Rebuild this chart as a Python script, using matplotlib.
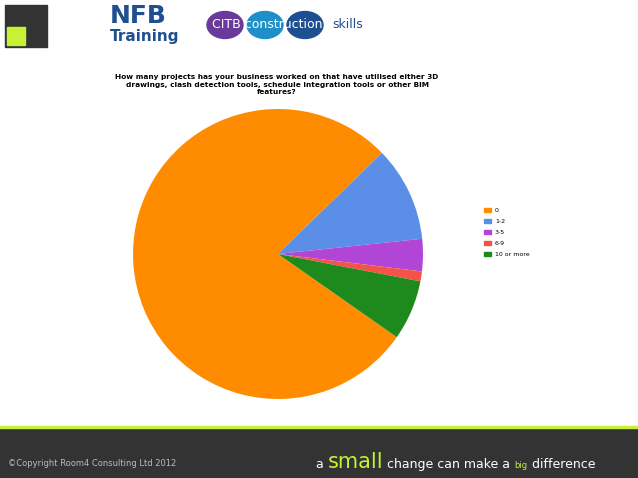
import matplotlib.pyplot as plt
from matplotlib.patches import Rectangle, Circle

categories = ["0", "1-2", "3-5", "6-9", "10 or more"]
shares = [78.0, 10.6, 3.6, 1.1, 6.7]
colors = ["#ff8c00", "#5b8ee6", "#b146d6", "#f5524a", "#1e8a1e"]
title = ("How many projects has your business worked on that have utilised either 3D\n"
         "drawings, clash detection tools, schedule integration tools or other BIM\n"
         "features?")

fig = plt.figure(figsize=(6.38, 4.78), dpi=100)
fig.patch.set_facecolor("white")

# header logos (rough)
fig.patches.append(Rectangle((5/638, 1-47/478), 42/638, 42/478, transform=fig.transFigure,
                             color="#333333"))
fig.patches.append(Rectangle((7/638, 1-45/478), 18/638, 18/478, transform=fig.transFigure,
                             color="#c6f135"))
fig.text(110/638, 1-16/478, "NFB", fontsize=18, fontweight="bold", color="#1d4f91",
         ha="left", va="center")
fig.text(110/638, 1-36/478, "Training", fontsize=11, fontweight="bold", color="#1d4f91",
         ha="left", va="center")
for cx, c in [(225, "#6a3a9a"), (265, "#1e8fc8"), (305, "#1d4f91")]:
    fig.patches.append(Circle((cx/638, 1-25/478), 18/638, transform=fig.transFigure,
                              color=c))
fig.text(212/638, 1-25/478, "CITB construction", fontsize=9, color="white",
         ha="left", va="center")
fig.text(332/638, 1-25/478, "skills", fontsize=9, color="#1d4f91", ha="left", va="center")

fig.text(277/638, 1-85/478, title, fontsize=5.3, fontweight="bold", ha="center",
         va="center", linespacing=1.3)

ax = fig.add_axes([133/638, 1-399/478, 290/638, 290/478])
ax.pie(shares, colors=colors, startangle=-35, counterclock=False)
ax.set_xlim(-1, 1)
ax.set_ylim(-1, 1)
ax.set_aspect("equal")

handles = [Rectangle((0, 0), 1, 1, color=c) for c in colors]
fig.legend(handles, categories, loc="upper left", bbox_to_anchor=(478/638, 1-202/478),
           frameon=False, fontsize=4.5, handlelength=1.2, handleheight=0.7,
           labelspacing=0.9, handletextpad=0.6)

# footer
fig.patches.append(Rectangle((0, 0), 1, 50/478, transform=fig.transFigure, color="#333333"))
fig.patches.append(Rectangle((0, 50/478), 1, 2/478, transform=fig.transFigure,
                             color="#c6f135"))
fig.text(8/638, 1-463/478, "©Copyright Room4 Consulting Ltd 2012", fontsize=6,
         color="#bbbbbb", ha="left", va="center")
x = 316/638
y = 1-468/478
parts = [("a ", 9, "white"), ("small", 15, "#c6f135"), (" change can make a ", 9, "white"),
         ("big", 6, "#c6f135"), (" difference", 9, "white")]
renderer = fig.canvas.get_renderer()
for s, fs, c in parts:
    t = fig.text(x, y, s, fontsize=fs, color=c, ha="left", va="baseline")
    bb = t.get_window_extent(renderer)
    x += bb.width / fig.bbox.width

fig.savefig("out.png", dpi=100)
